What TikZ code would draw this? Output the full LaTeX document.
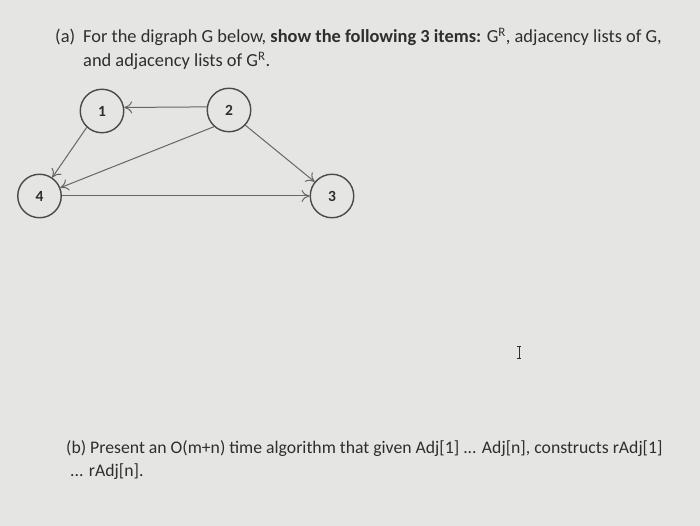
\documentclass[tikz,border=0pt]{standalone}
\usepackage{fontspec}
\setmainfont{Carlito}
\usetikzlibrary{arrows.meta}
\definecolor{paper}{HTML}{E5E5E3}
\definecolor{ink}{HTML}{2E2E2E}
\definecolor{edgegray}{HTML}{666666}
\definecolor{ringgray}{HTML}{4A4A4A}
\tikzset{
  txta/.style={anchor=base west, inner sep=0pt, text=ink, font=\fontsize{18.4bp}{24bp}\selectfont},
  txtb/.style={anchor=base west, inner sep=0pt, text=ink, font=\fontsize{17.7bp}{24bp}\selectfont},
  vtx/.style={circle, draw=ringgray, line width=1.4bp, minimum size=43.5bp, inner sep=0pt, text=ink, font=\fontsize{15.5bp}{16bp}\selectfont\bfseries},
  arc/.style={draw=edgegray, line width=1bp, -{To[length=8bp,width=12bp]}}
}
\begin{document}
\begin{tikzpicture}[x=1bp, y=-1bp]
\fill[paper] (0,0) rectangle (700,526);
\useasboundingbox (0,0) rectangle (700,526);
% text of part (a)
\node[txta] (alabel) at (55,43) {(a)};
\node[txta] (aline1) at (83,43) {For the digraph G below, \textbf{show the following 3 items:} G\textsuperscript{R}, adjacency lists of G,};
\node[txta] (aline2) at (83,67) {and adjacency lists of G\textsuperscript{R}.};
% graph
\node[vtx] (n1) at (102,111) {1};
\node[vtx] (n2) at (229,110) {2};
\node[vtx] (n4) at (39.5,196) {4};
\node[vtx] (n3) at (332,196) {3};
\draw[arc] (n2.172) -- (n1.9);
\draw[arc] (n1.227) -- (n4);
\draw[arc] (n2.228) -- (n4);
\draw[arc] (n2.-43) -- (n3);
\draw[arc] (n4) -- (n3);
% cursor
\coordinate (cur) at (519,352);
\draw[ink, line width=0.8bp] ([yshift=-6]cur) -- ([yshift=6]cur)
  ([xshift=-2.5,yshift=-6]cur) -- ([xshift=2.5,yshift=-6]cur)
  ([xshift=-2.5,yshift=6]cur) -- ([xshift=2.5,yshift=6]cur);
% text of part (b)
\node[txtb] (bline1) at (66,453) {(b) Present an O(m+n) time algorithm that given Adj[1] ... Adj[n], constructs rAdj[1]};
\node[txtb] (bline2) at (70,476) {... rAdj[n].};
\end{tikzpicture}
\end{document}
